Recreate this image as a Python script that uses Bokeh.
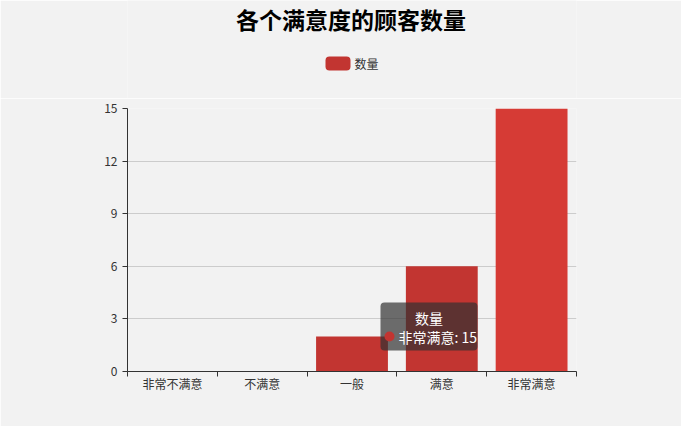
import numpy as np
from bokeh.plotting import figure
from bokeh.layouts import column
from bokeh.models import (ColumnDataSource, FixedTicker, Range1d, Label, BoxAnnotation)
from bokeh.embed import file_html
from bokeh.resources import INLINE

# ---- data ----
title_text = "各个满意度的顾客数量"
series_name = "数量"
categories = ["非常不满意", "不满意", "一般", "满意", "非常满意"]
counts = [0, 0, 2, 6, 15]
y_ticks = [0, 3, 6, 9, 12, 15]
highlight_index = 4  # bar under the tooltip

FONT = "Noto Sans CJK SC"
BASE = "#c23531"
HOT = "#d63b35"
BG = "#f2f2f2"
W = 681
HEAD_H = 98
LEFT, RIGHT = 127, 105

# ---- header (title + legend); x data units = page pixels ----
head = figure(width=W, height=HEAD_H, output_backend="svg", toolbar_location=None,
              x_range=Range1d(LEFT, W - RIGHT), y_range=Range1d(0, HEAD_H),
              x_axis_type=None, y_axis_type=None,
              min_border_left=LEFT, min_border_right=RIGHT, min_border_top=0, min_border_bottom=0)
head.background_fill_color = BG
head.border_fill_color = BG
head.outline_line_color = None
head.xgrid.visible = False
head.ygrid.visible = False
head.add_layout(Label(x=350.5, y=80, text=title_text, text_align="center",
                      text_baseline="middle", text_font=FONT, text_font_size="23px",
                      text_font_style="bold", text_color="#000000"))
head.add_layout(BoxAnnotation(left=325, right=350, bottom=28, top=42,
                              fill_color=BASE, fill_alpha=1, line_color=None, border_radius=4))
head.add_layout(Label(x=354, y=35.5, text=series_name, text_align="left",
                      text_baseline="middle", text_font=FONT, text_font_size="12px",
                      text_color="#333333"))

# ---- main chart ----
xs = np.arange(len(categories)) + 0.5
colors = [HOT if i == highlight_index else BASE for i in range(len(categories))]
src = ColumnDataSource(dict(x=xs, top=counts, color=colors, cat=categories))

p = figure(width=W, height=328, output_backend="svg", toolbar_location=None,
           x_range=Range1d(0, len(categories)), y_range=Range1d(0, max(y_ticks)),
           min_border_left=LEFT, min_border_right=RIGHT, min_border_top=10, min_border_bottom=55)
p.background_fill_color = BG
p.border_fill_color = BG
p.outline_line_color = None

p.vbar(x="x", top="top", width=0.8, bottom=0, fill_color="color", line_color=None, source=src)

p.xaxis.ticker = FixedTicker(ticks=list(xs), minor_ticks=list(range(len(categories) + 1)))
p.xaxis.major_label_overrides = {float(x): c for x, c in zip(xs, categories)}
p.xaxis.major_tick_line_color = None
p.xaxis.major_tick_out = 0
p.xaxis.major_tick_in = 0
p.xaxis.minor_tick_line_color = "#333333"
p.xaxis.minor_tick_out = 5
p.xaxis.minor_tick_in = 0
p.xaxis.axis_line_color = "#333333"
p.xaxis.major_label_standoff = -2
p.yaxis.ticker = FixedTicker(ticks=y_ticks)
p.yaxis.minor_tick_line_color = None
p.yaxis.major_tick_out = 5
p.yaxis.major_tick_in = 0
p.yaxis.major_tick_line_color = "#333333"
p.yaxis.axis_line_color = "#333333"
p.yaxis.major_label_standoff = 5
for ax in (p.xaxis, p.yaxis):
    ax.major_label_text_font = FONT
    ax.major_label_text_font_size = "12px"
    ax.major_label_text_color = "#333333"
p.xgrid.grid_line_color = None
p.ygrid.ticker = FixedTicker(ticks=y_ticks)
p.ygrid.grid_line_color = "#cccccc"

# tooltip (frame-relative screen units)
p.add_layout(BoxAnnotation(left=253, right=350, bottom=21, top=69,
                           left_units="screen", right_units="screen",
                           bottom_units="screen", top_units="screen",
                           fill_color="#323232", fill_alpha=0.7, line_color=None,
                           border_radius=4))
p.add_layout(BoxAnnotation(left=257, right=267, bottom=30, top=40,
                           left_units="screen", right_units="screen",
                           bottom_units="screen", top_units="screen",
                           fill_color=BASE, fill_alpha=1, line_color=None,
                           border_radius=5))
p.add_layout(Label(x=301.5, y=54, x_units="screen", y_units="screen", text=series_name,
                   text_align="center", text_baseline="middle", text_font=FONT,
                   text_font_size="14px", text_color="#ffffff"))
p.add_layout(Label(x=271, y=35, x_units="screen", y_units="screen",
                   text=f"{categories[highlight_index]}: {counts[highlight_index]}",
                   text_align="left", text_baseline="middle", text_font=FONT,
                   text_font_size="14px", text_color="#ffffff"))

layout = column(head, p, spacing=0)
open("out.html", "w").write(file_html(layout, INLINE))
